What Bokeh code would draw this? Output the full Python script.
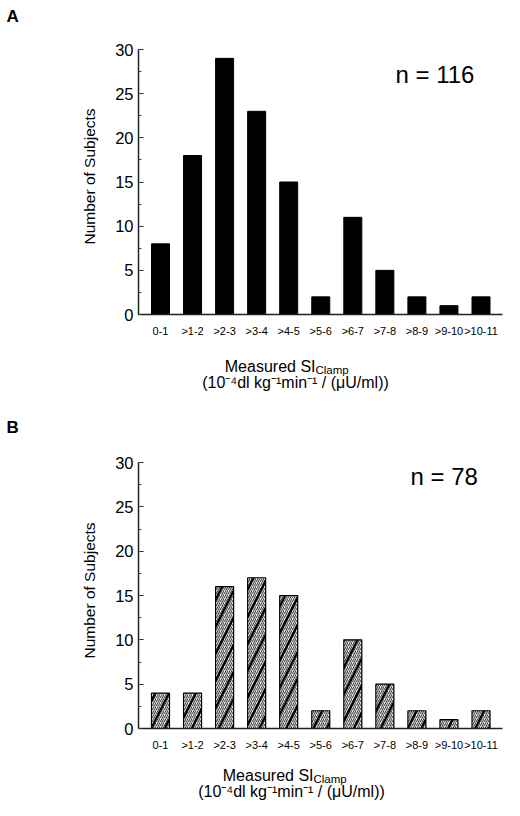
from bokeh.plotting import figure
from bokeh.models import (Range1d, Label, LinearAxis, FixedTicker,
                          SingleIntervalTicker)
from bokeh.layouts import column
from bokeh.embed import file_html
from bokeh.resources import INLINE

categories = ["0-1", ">1-2", ">2-3", ">3-4", ">4-5", ">5-6", ">6-7",
              ">7-8", ">8-9", ">9-10", ">10-11"]
counts_a = [8, 18, 29, 23, 15, 2, 11, 5, 2, 1, 2]
counts_b = [4, 4, 16, 17, 15, 2, 10, 5, 2, 1, 2]
panel_letters = ["A", "B"]
n_texts = ["n = 116", "n = 78"]
y_title = "Number of Subjects"
x_title_main = "Measured SI"
x_title_sub = "Clamp"
x_title_units = "(10\u207b\u2074dl kg\u207b\u00b9min\u207b\u00b9 / (\u03bcU/ml))"

FONT = "Liberation Sans"
WIDTH = 504
AXIS_LEFT = 138.0      # px where the x axis starts (y axis position)
AXIS_RIGHT = 502.0     # px where the x axis ends
FIRST_CENTER = 160.0   # px of the first bar centre
LAST_CENTER = 480.5    # px of the last bar centre
BAR_PX = 18.0


def make_panel(counts, letter, ntext, page_top, height, frame_top, frame_bottom,
               pos, hatched):
    n = len(categories)
    pxu = (LAST_CENTER - FIRST_CENTER) / (n - 1)
    pyu = (frame_bottom - frame_top) / 30.0
    x_start = -FIRST_CENTER / pxu
    x_end = x_start + WIDTH / pxu
    y_start = -(page_top + height - frame_bottom) / pyu
    y_end = 30 + (frame_top - page_top) / pyu

    def dx(px):
        return (px - FIRST_CENTER) / pxu

    def dy(py):
        return (frame_bottom - py) / pyu

    p = figure(width=WIDTH, height=height,
               x_range=Range1d(x_start, x_end), y_range=Range1d(y_start, y_end),
               output_backend="svg", toolbar_location=None,
               x_axis_location=None, y_axis_location=None,
               min_border_left=0, min_border_right=0,
               min_border_top=0, min_border_bottom=0)
    p.outline_line_color = None
    p.xgrid.grid_line_color = None
    p.ygrid.grid_line_color = None
    p.background_fill_color = "white"
    p.border_fill_color = "white"

    xs = list(range(n))
    bw = BAR_PX / pxu
    if hatched:
        p.vbar(x=xs, top=counts, width=bw, fill_color="#f4f4f4",
               line_color=None, hatch_pattern="/", hatch_scale=4,
               hatch_weight=1.1, hatch_color="#4a4a4a")
        p.vbar(x=xs, top=counts, width=bw, fill_alpha=0,
               line_color="black", line_width=1.2, hatch_pattern="/",
               hatch_scale=27, hatch_weight=2.2, hatch_color="black")
    else:
        p.vbar(x=xs, top=counts, width=bw, fill_color="black",
               line_color="black")

    # y axis at the left end of the x axis
    ya = LinearAxis(fixed_location=dx(AXIS_LEFT), bounds=(0, 30),
                    ticker=SingleIntervalTicker(interval=5, num_minor_ticks=2))
    ya.axis_line_color = "#222222"
    ya.axis_line_width = 1.5
    ya.major_tick_in = 5
    ya.major_tick_out = 0
    ya.minor_tick_in = 3
    ya.minor_tick_out = 0
    ya.major_tick_line_color = "#222222"
    ya.minor_tick_line_color = "#444444"
    ya.major_label_text_font = FONT
    ya.major_label_text_font_size = "16.5px"
    ya.major_label_text_color = "black"
    ya.major_label_standoff = 5
    p.add_layout(ya, "left")

    # x axis with the category labels
    xa = LinearAxis(fixed_location=0, bounds=(dx(AXIS_LEFT), dx(AXIS_RIGHT)),
                    ticker=FixedTicker(ticks=xs, minor_ticks=[]))
    xa.major_label_overrides = {i: c for i, c in enumerate(categories)}
    xa.axis_line_color = "#222222"
    xa.axis_line_width = 1.5
    xa.major_tick_in = 0
    xa.major_tick_out = 0
    xa.minor_tick_in = 0
    xa.minor_tick_out = 0
    xa.major_label_text_font = FONT
    xa.major_label_text_font_size = "11px"
    xa.major_label_text_color = "black"
    xa.major_label_standoff = 10
    p.add_layout(xa, "below")

    # panel letter
    p.add_layout(Label(x=dx(6), y=dy(pos["letter_y"]), text=letter,
                       text_font=FONT, text_font_size="17px",
                       text_font_style="bold", text_align="left",
                       text_baseline="middle", text_color="black"))
    # n = ...
    p.add_layout(Label(x=dx(pos["n_x"]), y=dy(pos["n_y"]), text=ntext,
                       text_font=FONT, text_font_size="24px",
                       text_align="left", text_baseline="middle",
                       text_color="black"))
    # y title
    p.add_layout(Label(x=dx(89), y=dy(pos["ytitle_y"]), text=y_title,
                       text_font=FONT, text_font_size="15.5px", angle=1.5707963,
                       text_align="center", text_baseline="middle",
                       text_color="black"))
    # x title line 1 with subscript
    p.add_layout(Label(x=dx(pos["junction"]), y=dy(pos["base1"]), text=x_title_main,
                       text_font=FONT, text_font_size="16px",
                       text_align="right", text_baseline="alphabetic",
                       text_color="black"))
    p.add_layout(Label(x=dx(pos["junction"]), y=dy(pos["base1"] + 3), text=x_title_sub,
                       text_font=FONT, text_font_size="11.5px",
                       text_align="left", text_baseline="alphabetic",
                       text_color="black"))
    # x title line 2
    p.add_layout(Label(x=dx(pos["line2_x"]), y=dy(pos["line2_y"]), text=x_title_units,
                       text_font=FONT, text_font_size="16px",
                       text_align="center", text_baseline="middle",
                       text_color="black"))
    return p


pa = make_panel(counts_a, panel_letters[0], n_texts[0], page_top=0, height=394,
                frame_top=49, frame_bottom=314,
                pos=dict(letter_y=15.5, n_x=395, n_y=74, ytitle_y=176,
                         junction=315, base1=366, line2_x=295, line2_y=382),
                hatched=False)
pb = make_panel(counts_b, panel_letters[1], n_texts[1], page_top=394, height=406,
                frame_top=462, frame_bottom=728,
                pos=dict(letter_y=427, n_x=410, n_y=476, ytitle_y=590,
                         junction=313, base1=775, line2_x=291, line2_y=791),
                hatched=True)

layout = column(pa, pb, spacing=0)
open("out.html", "w").write(file_html(layout, INLINE))
